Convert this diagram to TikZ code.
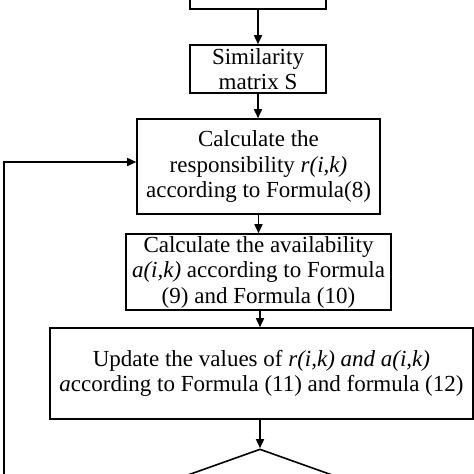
\documentclass[tikz,border=0pt]{standalone}
\usepackage{fontspec}
\setmainfont{Liberation Serif}
\usetikzlibrary{arrows.meta,shapes.geometric}
\begin{document}
\begin{tikzpicture}[x=1pt,y=-1pt,
  every node/.style={font=\fontsize{23}{25.5}\selectfont},
  box/.style={draw, line width=1.6pt, rectangle, inner sep=0pt, align=center},
  arr/.style={line width=1.6pt, -{Triangle[length=9pt,width=8pt]}},
  lin/.style={line width=1.6pt}]
\useasboundingbox (0,0) rectangle (474,474);
\clip (0,0) rectangle (474,474);
\fill[white] (0,0) rectangle (474,474);
\node[box, minimum width=136pt, minimum height=50pt] (top) at (258,-16) {};
\node[box, minimum width=136pt, minimum height=48pt] (sim) at (258,69) {Similarity\\matrix S};
\node[box, minimum width=243pt, minimum height=95pt] (resp) at (258.5,166.5) {Calculate the\\responsibility \textit{r(i,k)}\\according to Formula(8)};
\node[box, minimum width=265pt, minimum height=76pt] (avail) at (258.5,272) {Calculate the availability\\\textit{a(i,k)} according to Formula\\(9) and Formula (10)};
\node[box, minimum width=423pt, minimum height=91pt] (upd) at (261.5,373.5) {Update the values of \textit{r(i,k) and a(i,k)}\\\textit{a}ccording to Formula (11) and formula (12)};
\node[draw, line width=1.6pt, diamond, inner sep=0pt, minimum width=336pt, minimum height=120pt] (cond) at (260,509) {};
\coordinate (loopstart) at (4,480);
\draw[arr] (top.south -| sim.north) -- (sim.north);
\draw[arr] (sim.south) -- (sim.south |- resp.north);
\draw[arr] (resp.south -| 258.5,0) -- (avail.north -| 258.5,0);
\draw[arr] (avail.south -| 260,0) -- (upd.north -| 260,0);
\draw[arr] (upd.south -| cond.north) -- (cond.north);
\draw[arr] (loopstart) |- ([yshift=4.5pt]resp.west);
\end{tikzpicture}
\end{document}
